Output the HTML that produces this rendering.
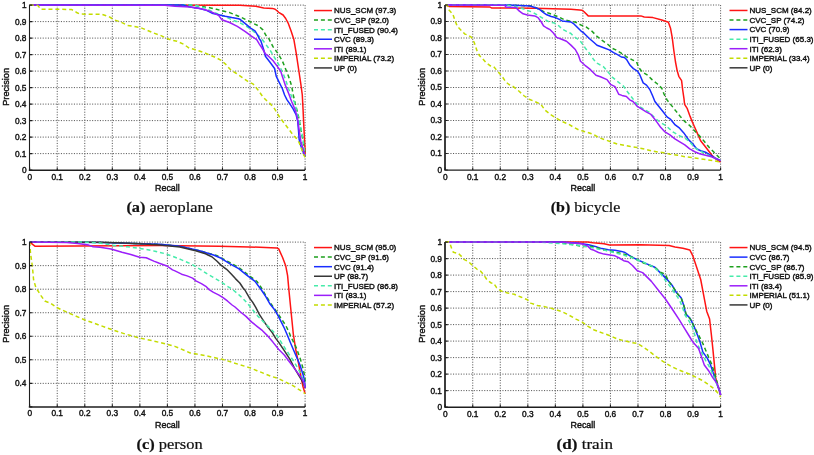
<!DOCTYPE html><html><head><meta charset="utf-8"><title>PR curves</title><style>html,body{margin:0;padding:0;background:#fff;overflow:hidden;}svg{display:block;}</style></head><body>
<svg width="814" height="455" viewBox="0 0 814 455">
<rect width="814" height="455" fill="#fff"/>
<path d="M57.24 5.1V170.1 M84.78 5.1V170.1 M112.32 5.1V170.1 M139.86 5.1V170.1 M167.4 5.1V170.1 M194.94 5.1V170.1 M222.48 5.1V170.1 M250.02 5.1V170.1 M277.56 5.1V170.1 M305.1 5.1V170.1 M29.7 153.6H305.1 M29.7 137.1H305.1 M29.7 120.6H305.1 M29.7 104.1H305.1 M29.7 87.6H305.1 M29.7 71.1H305.1 M29.7 54.6H305.1 M29.7 38.1H305.1 M29.7 21.6H305.1 M29.7 5.1H305.1" fill="none" stroke="#5a5a5a" stroke-width="1.0" stroke-dasharray="1.1 1.5"/>
<path d="M29.7 5.1 L240 5.3 L255.8 6.2 L263.7 7.9 L272.5 8.4 L275.2 9.2 L278.7 12.3 L283.1 15 L285.7 18.5 L288.4 23.7 L291 30.8 L293.8 39.2 L296.2 53.1 L298.5 68.5 L300.8 83.8 L302.3 95 L303.1 110.4 L303.8 125.8 L304.6 141.2 L305.1 150.4 L305.1 155" fill="none" stroke="rgb(255,20,20)" stroke-width="1.5" stroke-linejoin="round"/>
<path d="M29.7 5.1 L190 5.1 L194.4 5.5 L202.1 6.6 L209.8 7.7 L216.4 9.3 L223 11 L229.6 12.6 L235.1 14.8 L241.6 17.5 L245.3 19.3 L252.3 22.9 L258.5 25.9 L262.9 29.9 L266.4 36.1 L268.5 38 L273.1 46.9 L277.7 53.1 L282.3 60.8 L285.4 68.5 L288.5 76.2 L291.5 85.4 L293.5 96 L295.4 104.2 L298.5 116.5 L300.8 128.8 L303.1 141.2 L304.6 150.4 L305.1 156.5" fill="none" stroke="rgb(30,160,30)" stroke-width="1.5" stroke-linejoin="round" stroke-dasharray="4 2.9"/>
<path d="M29.7 5.1 L195 5.1 L205 8 L213.1 12.1 L225 16.5 L232.9 20.3 L239.5 22.5 L245 25.5 L251.5 29.7 L256 33.5 L260.8 37.7 L265.4 43.8 L270 50 L274.6 57.7 L279.2 65.4 L282.3 71.5 L285.4 79.2 L288.5 88.5 L291.5 96.2 L294.6 102.7 L297.7 115 L300.8 127.3 L303.1 139.6 L304.6 151.9 L305.1 155" fill="none" stroke="rgb(70,235,170)" stroke-width="1.5" stroke-linejoin="round" stroke-dasharray="4 2.9"/>
<path d="M29.7 5.1 L183.5 5.1 L190 7.1 L198.8 8.2 L206.5 10.4 L212 13.2 L218.6 14.8 L225.2 16.3 L231.8 17.6 L238.4 18.7 L240 19.3 L245.3 23.7 L250.6 28.1 L255 30.8 L257.6 35.2 L259.3 38.7 L260.8 40.8 L263.8 50 L265.4 56.2 L270 62.3 L274.6 68.5 L276.2 76.2 L279.2 82.3 L282.3 88.5 L284.6 95 L286.9 99.6 L290 104.2 L293.1 108.8 L296.2 115 L297.7 121.2 L298.5 130.4 L299.2 139.6 L300.8 145.8 L303.1 151.9 L304.6 155.8 L305.1 156.5" fill="none" stroke="rgb(25,45,255)" stroke-width="1.5" stroke-linejoin="round"/>
<path d="M29.7 5.1 L165 5.2 L175 6.2 L190 7.1 L201 8.8 L207.6 10.4 L212 12.1 L218.6 15.4 L221.9 19.8 L229.6 22.5 L237.3 26.4 L240 28.1 L245.3 31.7 L251.4 36.1 L256.7 39.6 L259.2 43.8 L262.3 48.5 L265.4 53.8 L268.5 56.2 L273.1 60.8 L277.7 66.9 L280.8 71.5 L282.3 76.2 L285.4 85.4 L288.5 93.1 L291.5 101.2 L295.4 110.4 L297.7 119.6 L299.2 130.4 L300.8 141.2 L303.1 148.8 L304.6 155 L305.1 156" fill="none" stroke="rgb(155,30,250)" stroke-width="1.5" stroke-linejoin="round"/>
<path d="M29.7 5.1 L37.8 5.4 L40.8 9.3 L71.2 9.4 L74.2 10.8 L77.1 12.8 L80.1 14.1 L101.6 14.3 L108.8 16.6 L114.3 19.9 L120.9 22.1 L127.5 25.4 L134.1 26.5 L140.7 27.6 L147.3 30.3 L153.8 33.1 L160.4 35.3 L165.9 38 L171.4 40.2 L177 41.2 L183.8 44.3 L189.3 48.2 L195.9 49.8 L202.5 52 L209.1 54.8 L214.6 57 L221.2 60.3 L225.5 64.1 L231 70.2 L236.5 73.5 L242 77.3 L247.5 81.2 L253 83.9 L258 90 L262.9 96.9 L266.5 100.5 L270 103.5 L274.6 108.8 L279.2 116.5 L283.8 122.7 L288.5 128.8 L293.1 135 L296.2 138.1 L299.2 142.7 L301.5 148.8 L303.8 155 L305.1 157.3" fill="none" stroke="rgb(195,220,0)" stroke-width="1.5" stroke-linejoin="round" stroke-dasharray="4 2.9"/>
<path d="M29.5 5.1V170.1" fill="none" stroke="#1e1e1e" stroke-width="1.1"/>
<path d="M28.8 170.25H305.1" fill="none" stroke="#1e1e1e" stroke-width="1.4"/>
<path d="M29.7 170.1v-2.6 M57.24 170.1v-2.6 M84.78 170.1v-2.6 M112.32 170.1v-2.6 M139.86 170.1v-2.6 M167.4 170.1v-2.6 M194.94 170.1v-2.6 M222.48 170.1v-2.6 M250.02 170.1v-2.6 M277.56 170.1v-2.6 M305.1 170.1v-2.6 M29.7 170.1h2.6 M29.7 153.6h2.6 M29.7 137.1h2.6 M29.7 120.6h2.6 M29.7 104.1h2.6 M29.7 87.6h2.6 M29.7 71.1h2.6 M29.7 54.6h2.6 M29.7 38.1h2.6 M29.7 21.6h2.6 M29.7 5.1h2.6" fill="none" stroke="#1e1e1e" stroke-width="1.1"/>
<g font-family='"Liberation Sans", Arial, Helvetica, sans-serif' font-size="8.3" fill="#111" stroke="#111" stroke-width="0.4">
<text x="29.7" y="179.6" text-anchor="middle">0</text>
<text x="57.24" y="179.6" text-anchor="middle">0.1</text>
<text x="84.78" y="179.6" text-anchor="middle">0.2</text>
<text x="112.32" y="179.6" text-anchor="middle">0.3</text>
<text x="139.86" y="179.6" text-anchor="middle">0.4</text>
<text x="167.4" y="179.6" text-anchor="middle">0.5</text>
<text x="194.94" y="179.6" text-anchor="middle">0.6</text>
<text x="222.48" y="179.6" text-anchor="middle">0.7</text>
<text x="250.02" y="179.6" text-anchor="middle">0.8</text>
<text x="277.56" y="179.6" text-anchor="middle">0.9</text>
<text x="305.1" y="179.6" text-anchor="middle">1</text>
<text x="26.5" y="173" text-anchor="end">0</text>
<text x="26.5" y="156.5" text-anchor="end">0.1</text>
<text x="26.5" y="140" text-anchor="end">0.2</text>
<text x="26.5" y="123.5" text-anchor="end">0.3</text>
<text x="26.5" y="107" text-anchor="end">0.4</text>
<text x="26.5" y="90.5" text-anchor="end">0.5</text>
<text x="26.5" y="74" text-anchor="end">0.6</text>
<text x="26.5" y="57.5" text-anchor="end">0.7</text>
<text x="26.5" y="41" text-anchor="end">0.8</text>
<text x="26.5" y="24.5" text-anchor="end">0.9</text>
<text x="26.5" y="8" text-anchor="end">1</text>
</g>
<text x="167.4" y="190.9" text-anchor="middle" font-family='"Liberation Sans", Arial, Helvetica, sans-serif' font-size="8.9" fill="#111" stroke="#111" stroke-width="0.4">Recall</text>
<text transform="translate(9.3 86.9) rotate(-90)" text-anchor="middle" font-family='"Liberation Sans", Arial, Helvetica, sans-serif' font-size="9.2" fill="#111" stroke="#111" stroke-width="0.4">Precision</text>
<path d="M314 10.56H332" stroke="rgb(255,20,20)" stroke-width="1.5"/>
<text x="334" y="13.46" font-family='"Liberation Sans", Arial, Helvetica, sans-serif' font-size="8.0" fill="#111" stroke="#111" stroke-width="0.4">NUS_SCM (97.3)</text>
<path d="M314 20.12H332" stroke="rgb(30,160,30)" stroke-width="1.5" stroke-dasharray="4 2.9"/>
<text x="334" y="23.02" font-family='"Liberation Sans", Arial, Helvetica, sans-serif' font-size="8.0" fill="#111" stroke="#111" stroke-width="0.4">CVC_SP (92.0)</text>
<path d="M314 29.68H332" stroke="rgb(70,235,170)" stroke-width="1.5" stroke-dasharray="4 2.9"/>
<text x="334" y="32.58" font-family='"Liberation Sans", Arial, Helvetica, sans-serif' font-size="8.0" fill="#111" stroke="#111" stroke-width="0.4">ITI_FUSED (90.4)</text>
<path d="M314 39.24H332" stroke="rgb(25,45,255)" stroke-width="1.5"/>
<text x="334" y="42.14" font-family='"Liberation Sans", Arial, Helvetica, sans-serif' font-size="8.0" fill="#111" stroke="#111" stroke-width="0.4">CVC (89.3)</text>
<path d="M314 48.8H332" stroke="rgb(155,30,250)" stroke-width="1.5"/>
<text x="334" y="51.7" font-family='"Liberation Sans", Arial, Helvetica, sans-serif' font-size="8.0" fill="#111" stroke="#111" stroke-width="0.4">ITI (89.1)</text>
<path d="M314 58.36H332" stroke="rgb(195,220,0)" stroke-width="1.5" stroke-dasharray="4 2.9"/>
<text x="334" y="61.26" font-family='"Liberation Sans", Arial, Helvetica, sans-serif' font-size="8.0" fill="#111" stroke="#111" stroke-width="0.4">IMPERIAL (73.2)</text>
<path d="M314 67.92H332" stroke="rgb(55,55,55)" stroke-width="1.5"/>
<text x="334" y="70.82" font-family='"Liberation Sans", Arial, Helvetica, sans-serif' font-size="8.0" fill="#111" stroke="#111" stroke-width="0.4">UP (0)</text>
<text x="126.4" y="211.7" font-family='"Liberation Serif", "Times New Roman", serif' font-size="14.2" fill="#111" stroke="#111" stroke-width="0.2" textLength="86.4" lengthAdjust="spacingAndGlyphs"><tspan font-weight="bold">(a)</tspan> aeroplane</text>
<path d="M472.74 5V170 M500.28 5V170 M527.82 5V170 M555.36 5V170 M582.9 5V170 M610.44 5V170 M637.98 5V170 M665.52 5V170 M693.06 5V170 M720.6 5V170 M445.2 153.5H720.6 M445.2 137H720.6 M445.2 120.5H720.6 M445.2 104H720.6 M445.2 87.5H720.6 M445.2 71H720.6 M445.2 54.5H720.6 M445.2 38H720.6 M445.2 21.5H720.6 M445.2 5H720.6" fill="none" stroke="#5a5a5a" stroke-width="1.0" stroke-dasharray="1.1 1.5"/>
<path d="M445.2 5 L448.9 6.4 L489.5 6.9 L491.5 7.9 L535 8.3 L571 9.3 L579.7 9.9 L581.9 10.2 L583.8 11.5 L588.2 15.9 L640.9 15.9 L644.2 17 L653 17.6 L661.8 20 L668.4 22.2 L670.6 28.6 L672.2 37.4 L673.9 51 L675.5 62 L677.2 70.8 L678.8 76.3 L681.6 80.7 L682.7 90 L684 98.8 L684.6 104.3 L687.3 108.7 L690.1 116.4 L692.3 121.9 L693.7 125 L697.6 133.9 L700.6 140.8 L704.6 145.8 L708.5 150.7 L711.5 154.7 L715.4 158.7 L720.6 162.1" fill="none" stroke="rgb(255,20,20)" stroke-width="1.5" stroke-linejoin="round"/>
<path d="M445.2 5 L505 5 L532.5 6 L538 8.8 L543.5 11.5 L549 13.2 L553.4 14.8 L558.8 17 L564.3 19.8 L570.9 21.4 L575 22 L581.6 25.3 L586 26.9 L591.5 30.8 L597 36.3 L602.5 40.7 L608 44.5 L612.4 48.4 L615.8 49.9 L621.3 53.2 L626.8 57 L632.3 59.8 L636.6 62 L638.8 67.5 L642.1 71.9 L647.6 75.2 L652 79.6 L657.5 84 L661.9 88.4 L663.7 93.3 L667 99.9 L671.4 105.4 L675.8 110.9 L680.2 116.4 L684.6 121.3 L689.7 125.5 L694.7 130.9 L699.6 135.9 L704.6 141.8 L709.5 147.8 L714.5 152.7 L719.4 157.7 L720.6 159.2" fill="none" stroke="rgb(30,160,30)" stroke-width="1.5" stroke-linejoin="round" stroke-dasharray="4 2.9"/>
<path d="M445.2 5 L505 5 L530.3 6 L536.9 8.2 L540.2 9.9 L543.5 12.6 L546.8 14.8 L551.2 16.5 L555.5 17.6 L558.8 19.2 L562.1 20.9 L566.5 21.4 L570.9 22 L574.2 24.2 L577.5 27.5 L580.8 30.8 L584 33.2 L589.3 38.5 L593.7 42.3 L597 45.3 L603.7 47.7 L609.2 49.9 L613.6 52.6 L618 54.8 L621.3 57 L624.6 57.6 L626.8 59.8 L630.1 65.3 L633.4 68.6 L637.7 71.3 L640 75.2 L643.2 82.9 L646.5 85.1 L649.8 89.5 L652.7 96 L654.9 101.5 L659.3 107 L663.7 112.5 L667 116.9 L670.3 119.1 L675.2 124.9 L679.6 128.2 L683.8 132.9 L688.7 139.9 L692.7 143.8 L696.6 148.8 L700.6 150.7 L705.5 152.2 L709.5 154.7 L714.5 157.7 L720.6 160.6" fill="none" stroke="rgb(25,45,255)" stroke-width="1.5" stroke-linejoin="round"/>
<path d="M445.2 5 L505 5 L516 6.6 L521.5 8.2 L527 10.4 L532.5 12.1 L538 15.4 L543.5 18.7 L549 22 L554.5 23.1 L558.8 25.8 L562.1 29.1 L566.5 31.3 L570.9 33.5 L574.2 36.8 L577.5 39 L580.8 41.8 L584.1 46.2 L585 47.7 L589.4 53.2 L593.8 59.8 L597.1 63.1 L603.7 66.9 L607 70.8 L612.5 77.4 L618 81.8 L623.5 86.2 L626.4 90.5 L630.8 96 L634.1 100.4 L638.5 105.9 L644 109.2 L649.5 112.5 L654.9 118 L660.4 122.4 L665.9 125.7 L672.9 131.9 L679.8 135.9 L684.8 137.9 L689.7 141.8 L694.7 147.8 L699.6 150.7 L705.5 153.7 L711.5 156.7 L720.6 160.6" fill="none" stroke="rgb(70,235,170)" stroke-width="1.5" stroke-linejoin="round" stroke-dasharray="4 2.9"/>
<path d="M445.2 5 L504.7 5.3 L506 7.2 L515.7 7.4 L519.4 11.1 L523.1 13.8 L527.4 15 L534.7 15.9 L538 17.6 L541.3 22 L543.5 25.8 L546.8 28 L550.1 29.7 L553.4 33 L556.6 37.4 L561 39 L566.5 41.2 L570.9 45.1 L575.3 49.5 L578.5 55.4 L580.5 61.3 L585 65.3 L590.5 69.7 L596 75.2 L600.4 76.8 L607 79.6 L610.5 84.3 L615 86.6 L618.7 94.3 L622 95.4 L626.4 96.5 L629.7 99.8 L633 101.5 L637.4 106.4 L641.8 109.2 L646.2 111.9 L650.5 114.1 L653.8 118 L657.1 122.4 L660.4 127 L665 131.9 L669.9 134.9 L674.9 138.9 L679.8 141.8 L684.8 144.8 L689.7 148.8 L694.7 151.7 L699.6 153.7 L705.5 155.2 L711.5 156.7 L720.6 160.6" fill="none" stroke="rgb(155,30,250)" stroke-width="1.5" stroke-linejoin="round"/>
<path d="M445.2 5 L447.4 5.2 L449 9.9 L452.9 14.3 L455.1 20.9 L457.3 26.4 L461.7 30.8 L465 34.1 L468.3 35.2 L471.6 37.4 L474.3 42.7 L477.1 51 L479.3 55.4 L482.6 58.7 L485.9 62.5 L490.3 65.8 L493.6 66.4 L495.8 69.1 L499.1 73 L502.4 76.8 L505.7 81.8 L509 84.5 L513.3 86.6 L518.8 91 L524.3 96 L529.2 99.3 L535.8 102 L540.8 104.2 L545.2 110.3 L550.7 114.7 L556.2 118 L561.6 121.3 L568.2 124 L573.7 127.3 L579.2 130.1 L586.6 132.1 L593.2 134.3 L598.7 137.6 L605.3 139.8 L611.3 142 L617.9 144.2 L624 145.3 L630.5 146.6 L637.1 147.5 L644.8 149.1 L651.4 150.8 L658 152.1 L664 152.7 L669.9 154.2 L677.8 155.2 L684.8 156.7 L692.7 157.7 L699.6 158.7 L706.5 159.7 L713.5 160.6 L720.6 162.1" fill="none" stroke="rgb(195,220,0)" stroke-width="1.5" stroke-linejoin="round" stroke-dasharray="4 2.9"/>
<path d="M445 5V170" fill="none" stroke="#333" stroke-width="1.9"/>
<path d="M444.3 170.15H720.6" fill="none" stroke="#1e1e1e" stroke-width="1.4"/>
<path d="M445.2 170v-2.6 M472.74 170v-2.6 M500.28 170v-2.6 M527.82 170v-2.6 M555.36 170v-2.6 M582.9 170v-2.6 M610.44 170v-2.6 M637.98 170v-2.6 M665.52 170v-2.6 M693.06 170v-2.6 M720.6 170v-2.6 M445.2 170h2.6 M445.2 153.5h2.6 M445.2 137h2.6 M445.2 120.5h2.6 M445.2 104h2.6 M445.2 87.5h2.6 M445.2 71h2.6 M445.2 54.5h2.6 M445.2 38h2.6 M445.2 21.5h2.6 M445.2 5h2.6" fill="none" stroke="#1e1e1e" stroke-width="1.1"/>
<g font-family='"Liberation Sans", Arial, Helvetica, sans-serif' font-size="8.3" fill="#111" stroke="#111" stroke-width="0.4">
<text x="445.2" y="179.5" text-anchor="middle">0</text>
<text x="472.74" y="179.5" text-anchor="middle">0.1</text>
<text x="500.28" y="179.5" text-anchor="middle">0.2</text>
<text x="527.82" y="179.5" text-anchor="middle">0.3</text>
<text x="555.36" y="179.5" text-anchor="middle">0.4</text>
<text x="582.9" y="179.5" text-anchor="middle">0.5</text>
<text x="610.44" y="179.5" text-anchor="middle">0.6</text>
<text x="637.98" y="179.5" text-anchor="middle">0.7</text>
<text x="665.52" y="179.5" text-anchor="middle">0.8</text>
<text x="693.06" y="179.5" text-anchor="middle">0.9</text>
<text x="720.6" y="179.5" text-anchor="middle">1</text>
<text x="442" y="172.9" text-anchor="end">0</text>
<text x="442" y="156.4" text-anchor="end">0.1</text>
<text x="442" y="139.9" text-anchor="end">0.2</text>
<text x="442" y="123.4" text-anchor="end">0.3</text>
<text x="442" y="106.9" text-anchor="end">0.4</text>
<text x="442" y="90.4" text-anchor="end">0.5</text>
<text x="442" y="73.9" text-anchor="end">0.6</text>
<text x="442" y="57.4" text-anchor="end">0.7</text>
<text x="442" y="40.9" text-anchor="end">0.8</text>
<text x="442" y="24.4" text-anchor="end">0.9</text>
<text x="442" y="7.9" text-anchor="end">1</text>
</g>
<text x="582.9" y="190.8" text-anchor="middle" font-family='"Liberation Sans", Arial, Helvetica, sans-serif' font-size="8.9" fill="#111" stroke="#111" stroke-width="0.4">Recall</text>
<text transform="translate(424.8 86.8) rotate(-90)" text-anchor="middle" font-family='"Liberation Sans", Arial, Helvetica, sans-serif' font-size="9.2" fill="#111" stroke="#111" stroke-width="0.4">Precision</text>
<path d="M729.5 10.46H747.5" stroke="rgb(255,20,20)" stroke-width="1.5"/>
<text x="749.5" y="13.36" font-family='"Liberation Sans", Arial, Helvetica, sans-serif' font-size="8.0" fill="#111" stroke="#111" stroke-width="0.4">NUS_SCM (84.2)</text>
<path d="M729.5 20.02H747.5" stroke="rgb(30,160,30)" stroke-width="1.5" stroke-dasharray="4 2.9"/>
<text x="749.5" y="22.92" font-family='"Liberation Sans", Arial, Helvetica, sans-serif' font-size="8.0" fill="#111" stroke="#111" stroke-width="0.4">CVC_SP (74.2)</text>
<path d="M729.5 29.58H747.5" stroke="rgb(25,45,255)" stroke-width="1.5"/>
<text x="749.5" y="32.48" font-family='"Liberation Sans", Arial, Helvetica, sans-serif' font-size="8.0" fill="#111" stroke="#111" stroke-width="0.4">CVC (70.9)</text>
<path d="M729.5 39.14H747.5" stroke="rgb(70,235,170)" stroke-width="1.5" stroke-dasharray="4 2.9"/>
<text x="749.5" y="42.04" font-family='"Liberation Sans", Arial, Helvetica, sans-serif' font-size="8.0" fill="#111" stroke="#111" stroke-width="0.4">ITI_FUSED (65.3)</text>
<path d="M729.5 48.7H747.5" stroke="rgb(155,30,250)" stroke-width="1.5"/>
<text x="749.5" y="51.6" font-family='"Liberation Sans", Arial, Helvetica, sans-serif' font-size="8.0" fill="#111" stroke="#111" stroke-width="0.4">ITI (62.3)</text>
<path d="M729.5 58.26H747.5" stroke="rgb(195,220,0)" stroke-width="1.5" stroke-dasharray="4 2.9"/>
<text x="749.5" y="61.16" font-family='"Liberation Sans", Arial, Helvetica, sans-serif' font-size="8.0" fill="#111" stroke="#111" stroke-width="0.4">IMPERIAL (33.4)</text>
<path d="M729.5 67.82H747.5" stroke="rgb(55,55,55)" stroke-width="1.5"/>
<text x="749.5" y="70.72" font-family='"Liberation Sans", Arial, Helvetica, sans-serif' font-size="8.0" fill="#111" stroke="#111" stroke-width="0.4">UP (0)</text>
<text x="550.7" y="211.6" font-family='"Liberation Serif", "Times New Roman", serif' font-size="14.2" fill="#111" stroke="#111" stroke-width="0.2" textLength="69.6" lengthAdjust="spacingAndGlyphs"><tspan font-weight="bold">(b)</tspan> bicycle</text>
<path d="M57.24 242.1V406.9 M84.78 242.1V406.9 M112.32 242.1V406.9 M139.86 242.1V406.9 M167.4 242.1V406.9 M194.94 242.1V406.9 M222.48 242.1V406.9 M250.02 242.1V406.9 M277.56 242.1V406.9 M305.1 242.1V406.9 M29.7 383.36H305.1 M29.7 359.81H305.1 M29.7 336.27H305.1 M29.7 312.73H305.1 M29.7 289.19H305.1 M29.7 265.64H305.1 M29.7 242.1H305.1" fill="none" stroke="#5a5a5a" stroke-width="1.0" stroke-dasharray="1.1 1.5"/>
<path d="M29.7 242.1 L34.9 246.2 L160 245.6 L219.4 246.3 L249.1 246.9 L276.8 247.9 L278.7 248.9 L282.7 257.8 L285.7 265.7 L287.6 275.6 L288.9 290 L291.1 312 L293.3 334 L295.7 349.3 L298.6 363.6 L300.7 375 L302.9 386.4 L305.1 393.6" fill="none" stroke="rgb(255,20,20)" stroke-width="1.5" stroke-linejoin="round"/>
<path d="M29.7 242.1 L100 242.4 L160 244.3 L179.8 246.3 L199.6 250.8 L217.4 255.8 L239.2 267.7 L249.1 275.6 L257 281.5 L261.5 288 L265.8 295.5 L271.3 304.3 L276.8 312 L281.2 318.6 L285.6 325.2 L288.9 331.8 L290.7 336.4 L295.7 346.4 L300 357.9 L302.9 367.9 L305 377.9 L305.1 386" fill="none" stroke="rgb(30,160,30)" stroke-width="1.5" stroke-linejoin="round" stroke-dasharray="4 2.9"/>
<path d="M29.7 242.1 L100 242.5 L160 244.3 L179.8 246.3 L199.6 250.8 L213.5 255 L221.2 258.3 L230 263.8 L238.7 268.7 L246.4 274.8 L255 281.4 L261.4 290 L265.8 296.6 L270.2 304.3 L274.6 309.8 L277.9 315.3 L281.2 321.9 L284.5 328.5 L287.8 336.2 L291.4 345 L295.7 355 L300 365 L303.6 376.4 L305 385 L305.1 388" fill="none" stroke="rgb(25,45,255)" stroke-width="1.5" stroke-linejoin="round"/>
<path d="M29.7 242.1 L100 242.3 L124 242.9 L143.7 243.9 L160 244.9 L179.8 246.9 L195.6 250.8 L205.5 253.8 L208 255 L212.4 257.2 L216.8 261 L221.2 265.4 L226.6 269.3 L231 273.7 L235.4 278.6 L239.8 283 L243.1 288 L244.9 290 L249.3 297.7 L252.6 302.1 L255.9 307.6 L259.2 314.2 L263.6 320.8 L268 327.4 L272.4 332.9 L275.7 338.4 L278.6 342.1 L284.3 350.7 L290 359.3 L294.3 367.9 L298.6 375 L302.9 382.1 L305 387.9" fill="none" stroke="rgb(55,55,55)" stroke-width="1.5" stroke-linejoin="round"/>
<path d="M29.7 242.1 L84.4 242.1 L100 243 L111 245.1 L127.5 246.8 L139.6 248.4 L146.2 249.5 L155 251.2 L165.9 253.9 L175 257.2 L181.6 259.9 L188.2 262.7 L193.7 265.4 L200.3 269.3 L206.9 273.7 L213.5 277.5 L220.1 281.4 L226.6 285.8 L232.1 289.1 L237 293.1 L242.3 297.8 L247.8 303.8 L252.6 309.8 L258.1 316.4 L263.6 321.9 L269.1 327.4 L274.6 332.9 L278 337 L282.9 345 L288.6 353.6 L294.3 362.1 L300 372.1 L303.6 380.7 L305.1 388" fill="none" stroke="rgb(70,235,170)" stroke-width="1.5" stroke-linejoin="round" stroke-dasharray="4 2.9"/>
<path d="M29.7 242.1 L66.8 242.4 L77.7 243.5 L88.7 245.1 L93.1 246.8 L100 247.3 L111 249 L122 252.3 L130.8 254.5 L139.6 257.2 L146.2 257.8 L153.8 261.1 L159.3 263.3 L167 266 L172.5 269.9 L175 270.9 L181.6 274.2 L187.1 275.9 L192.6 278.1 L195.9 280.8 L201.4 283.6 L205.8 286.3 L209.1 289.6 L213.5 292.4 L219 295.1 L223.4 297.9 L227.7 301.2 L232.1 305 L235 307 L240.5 312 L246 316.4 L251.5 321.9 L257 326.3 L262.5 330.7 L266.9 335.1 L272.9 342.1 L278.6 349.3 L284.3 355 L288.6 360.7 L292.9 366.4 L297.1 372.1 L301.4 377.9 L304.3 383.6 L305.1 388" fill="none" stroke="rgb(155,30,250)" stroke-width="1.5" stroke-linejoin="round"/>
<path d="M29.7 242.1 L30.5 253 L31.9 263 L32.8 271 L33.6 280 L35.9 287.5 L40.8 295.4 L44.8 301 L50.7 303.3 L56.7 307.5 L68.5 312.9 L84.4 319.8 L98.2 324.7 L112.1 329.7 L124 333.6 L137.8 337.6 L151.7 340.6 L163 343.2 L175.4 346.6 L189.7 352.7 L205.5 355.6 L223.3 359.6 L239.2 364.5 L250 367.9 L257.1 370.7 L264.3 373.6 L271.4 376.4 L278.6 378.6 L285.7 382.1 L292.9 385.7 L298.6 389.3 L305.1 393.6" fill="none" stroke="rgb(195,220,0)" stroke-width="1.5" stroke-linejoin="round" stroke-dasharray="4 2.9"/>
<path d="M29.5 242.1V406.9" fill="none" stroke="#1e1e1e" stroke-width="1.1"/>
<path d="M28.8 407.05H305.1" fill="none" stroke="#1e1e1e" stroke-width="1.4"/>
<path d="M29.7 406.9v-2.6 M57.24 406.9v-2.6 M84.78 406.9v-2.6 M112.32 406.9v-2.6 M139.86 406.9v-2.6 M167.4 406.9v-2.6 M194.94 406.9v-2.6 M222.48 406.9v-2.6 M250.02 406.9v-2.6 M277.56 406.9v-2.6 M305.1 406.9v-2.6 M29.7 406.9h2.6 M29.7 383.36h2.6 M29.7 359.81h2.6 M29.7 336.27h2.6 M29.7 312.73h2.6 M29.7 289.19h2.6 M29.7 265.64h2.6 M29.7 242.1h2.6" fill="none" stroke="#1e1e1e" stroke-width="1.1"/>
<g font-family='"Liberation Sans", Arial, Helvetica, sans-serif' font-size="8.3" fill="#111" stroke="#111" stroke-width="0.4">
<text x="29.7" y="416.4" text-anchor="middle">0</text>
<text x="57.24" y="416.4" text-anchor="middle">0.1</text>
<text x="84.78" y="416.4" text-anchor="middle">0.2</text>
<text x="112.32" y="416.4" text-anchor="middle">0.3</text>
<text x="139.86" y="416.4" text-anchor="middle">0.4</text>
<text x="167.4" y="416.4" text-anchor="middle">0.5</text>
<text x="194.94" y="416.4" text-anchor="middle">0.6</text>
<text x="222.48" y="416.4" text-anchor="middle">0.7</text>
<text x="250.02" y="416.4" text-anchor="middle">0.8</text>
<text x="277.56" y="416.4" text-anchor="middle">0.9</text>
<text x="305.1" y="416.4" text-anchor="middle">1</text>
<text x="26.5" y="386.26" text-anchor="end">0.4</text>
<text x="26.5" y="362.71" text-anchor="end">0.5</text>
<text x="26.5" y="339.17" text-anchor="end">0.6</text>
<text x="26.5" y="315.63" text-anchor="end">0.7</text>
<text x="26.5" y="292.09" text-anchor="end">0.8</text>
<text x="26.5" y="268.54" text-anchor="end">0.9</text>
<text x="26.5" y="245" text-anchor="end">1</text>
</g>
<text x="167.4" y="427.7" text-anchor="middle" font-family='"Liberation Sans", Arial, Helvetica, sans-serif' font-size="8.9" fill="#111" stroke="#111" stroke-width="0.4">Recall</text>
<text transform="translate(9.3 323.8) rotate(-90)" text-anchor="middle" font-family='"Liberation Sans", Arial, Helvetica, sans-serif' font-size="9.2" fill="#111" stroke="#111" stroke-width="0.4">Precision</text>
<path d="M314 247.56H332" stroke="rgb(255,20,20)" stroke-width="1.5"/>
<text x="334" y="250.46" font-family='"Liberation Sans", Arial, Helvetica, sans-serif' font-size="8.0" fill="#111" stroke="#111" stroke-width="0.4">NUS_SCM (95.0)</text>
<path d="M314 257.12H332" stroke="rgb(30,160,30)" stroke-width="1.5" stroke-dasharray="4 2.9"/>
<text x="334" y="260.02" font-family='"Liberation Sans", Arial, Helvetica, sans-serif' font-size="8.0" fill="#111" stroke="#111" stroke-width="0.4">CVC_SP (91.6)</text>
<path d="M314 266.68H332" stroke="rgb(25,45,255)" stroke-width="1.5"/>
<text x="334" y="269.58" font-family='"Liberation Sans", Arial, Helvetica, sans-serif' font-size="8.0" fill="#111" stroke="#111" stroke-width="0.4">CVC (91.4)</text>
<path d="M314 276.24H332" stroke="rgb(55,55,55)" stroke-width="1.5"/>
<text x="334" y="279.14" font-family='"Liberation Sans", Arial, Helvetica, sans-serif' font-size="8.0" fill="#111" stroke="#111" stroke-width="0.4">UP (88.7)</text>
<path d="M314 285.8H332" stroke="rgb(70,235,170)" stroke-width="1.5" stroke-dasharray="4 2.9"/>
<text x="334" y="288.7" font-family='"Liberation Sans", Arial, Helvetica, sans-serif' font-size="8.0" fill="#111" stroke="#111" stroke-width="0.4">ITI_FUSED (86.8)</text>
<path d="M314 295.36H332" stroke="rgb(155,30,250)" stroke-width="1.5"/>
<text x="334" y="298.26" font-family='"Liberation Sans", Arial, Helvetica, sans-serif' font-size="8.0" fill="#111" stroke="#111" stroke-width="0.4">ITI (83.1)</text>
<path d="M314 304.92H332" stroke="rgb(195,220,0)" stroke-width="1.5" stroke-dasharray="4 2.9"/>
<text x="334" y="307.82" font-family='"Liberation Sans", Arial, Helvetica, sans-serif' font-size="8.0" fill="#111" stroke="#111" stroke-width="0.4">IMPERIAL (57.2)</text>
<text x="136.5" y="448.5" font-family='"Liberation Serif", "Times New Roman", serif' font-size="14.2" fill="#111" stroke="#111" stroke-width="0.2" textLength="66.1" lengthAdjust="spacingAndGlyphs"><tspan font-weight="bold">(c)</tspan> person</text>
<path d="M472.74 242.1V407.1 M500.28 242.1V407.1 M527.82 242.1V407.1 M555.36 242.1V407.1 M582.9 242.1V407.1 M610.44 242.1V407.1 M637.98 242.1V407.1 M665.52 242.1V407.1 M693.06 242.1V407.1 M720.6 242.1V407.1 M445.2 390.6H720.6 M445.2 374.1H720.6 M445.2 357.6H720.6 M445.2 341.1H720.6 M445.2 324.6H720.6 M445.2 308.1H720.6 M445.2 291.6H720.6 M445.2 275.1H720.6 M445.2 258.6H720.6 M445.2 242.1H720.6" fill="none" stroke="#5a5a5a" stroke-width="1.0" stroke-dasharray="1.1 1.5"/>
<path d="M445.2 242.1 L587.5 241.9 L593 242.8 L604 243.7 L609.5 245 L640 244.8 L669.1 245.5 L675 246.9 L682.9 248.3 L689.8 249.9 L692.8 255.8 L696.8 267.7 L700.7 279.5 L703.7 295.4 L706.7 311.2 L709.6 319.1 L711.4 335 L712.9 349.3 L714.3 363.6 L715.7 377.9 L717.9 386.4 L720.6 395" fill="none" stroke="rgb(255,20,20)" stroke-width="1.5" stroke-linejoin="round"/>
<path d="M445.2 242.1 L560 242.1 L576.5 243.1 L582 243.7 L588.6 244.8 L595.2 246.4 L601.8 248.6 L608.4 249.7 L614.9 250.3 L621.5 251.4 L625 252.5 L629.2 255.4 L635.5 258.8 L644.3 262.9 L654.9 267.3 L660.2 272.6 L667.2 279.6 L672.5 285.8 L676 291.9 L681.3 298.1 L683.9 306 L685.7 313.9 L690.1 318.3 L693.6 325.3 L697.1 334.1 L700 342.1 L702.9 352.1 L707.1 357.9 L710 363.6 L712.9 372.1 L715.7 380.7 L720 392.1 L720.6 395" fill="none" stroke="rgb(25,45,255)" stroke-width="1.5" stroke-linejoin="round"/>
<path d="M445.2 242.1 L545 242.1 L560 242.6 L571 244.2 L576.5 245.3 L583.1 246.4 L589.7 246.2 L596.3 247.5 L602.9 249.7 L609.5 250.8 L616 252.5 L622.6 253.6 L629.2 255.8 L635.8 259.1 L644.3 263.2 L654.9 267.6 L660.5 272.2 L665.4 274.3 L668.2 280.5 L673 287 L677 293 L681.5 299 L684.2 306.5 L686.2 314.5 L690.3 319 L693.8 326 L698.6 335 L702.9 343.6 L707.1 353.6 L711.4 363.6 L714.3 372.1 L717.1 382.1 L720 392.1 L720.6 395" fill="none" stroke="rgb(30,160,30)" stroke-width="1.5" stroke-linejoin="round" stroke-dasharray="4 2.9"/>
<path d="M445.2 242.1 L540 242.1 L562.2 243.7 L580 245.5 L603.7 250 L621.5 254.5 L631.5 257.5 L644 262.5 L654.5 267.5 L660 273 L665.5 280.5 L670.5 287 L675 293.5 L679.5 300 L682.5 307.5 L685 315 L689 321 L692.5 327.5 L694.8 335 L697.1 343.6 L701.4 352.1 L705.7 360.7 L710 367.9 L714.3 377.9 L720 392.1 L720.6 395" fill="none" stroke="rgb(70,235,170)" stroke-width="1.5" stroke-linejoin="round" stroke-dasharray="4 2.9"/>
<path d="M445.2 242.1 L560 242.1 L582 243.7 L587.5 245.9 L590.8 249.2 L594.1 250.3 L598.5 252.5 L604 254.1 L608.4 254.7 L614.9 255.8 L619.3 258 L623.7 260.7 L628.1 261.8 L632.5 265.5 L637.3 270.8 L642.6 272.6 L651.4 281.4 L658.4 290.2 L665.4 299 L672.5 309.5 L679.5 320.1 L684.8 328.8 L688.6 335 L692.9 342.1 L698.6 348.6 L701.4 356.4 L704.3 365 L708.6 370.7 L712.9 377.9 L717.1 383.6 L720 392.1 L720.6 395" fill="none" stroke="rgb(155,30,250)" stroke-width="1.5" stroke-linejoin="round"/>
<path d="M445.2 242.1 L448.5 241.8 L450.1 244 L451.8 249 L453.4 252.3 L458.4 253.4 L461.7 256.7 L463.9 259.4 L468.3 261.6 L472.7 265.5 L477.1 269.3 L480.4 271 L483.7 274.8 L487 279.8 L491.4 283.1 L493.8 283.3 L496.6 287.7 L501 291 L507.6 293 L514.2 294.3 L520.8 297 L527.4 299.8 L530.7 303.1 L537.3 305.5 L543.8 306.6 L550.4 308 L555.9 309.7 L562.5 311.9 L569.4 315.4 L576 319.1 L582 322 L588.1 326.4 L593.6 329.7 L599.1 331.9 L605.7 334.1 L611.2 336.3 L617.7 339.1 L624.3 340.7 L630.9 342.4 L637.5 343.5 L642.1 346.4 L648.6 350.7 L655.7 356.4 L662.9 361.4 L670 365.7 L677.1 369.3 L684.3 372.1 L690 374.3 L695.7 377.1 L701.4 380 L707.1 383.6 L712.9 387.9 L717.1 392.1 L720.6 397" fill="none" stroke="rgb(195,220,0)" stroke-width="1.5" stroke-linejoin="round" stroke-dasharray="4 2.9"/>
<path d="M445 242.1V407.1" fill="none" stroke="#333" stroke-width="1.9"/>
<path d="M444.3 407.25H720.6" fill="none" stroke="#1e1e1e" stroke-width="1.4"/>
<path d="M445.2 407.1v-2.6 M472.74 407.1v-2.6 M500.28 407.1v-2.6 M527.82 407.1v-2.6 M555.36 407.1v-2.6 M582.9 407.1v-2.6 M610.44 407.1v-2.6 M637.98 407.1v-2.6 M665.52 407.1v-2.6 M693.06 407.1v-2.6 M720.6 407.1v-2.6 M445.2 407.1h2.6 M445.2 390.6h2.6 M445.2 374.1h2.6 M445.2 357.6h2.6 M445.2 341.1h2.6 M445.2 324.6h2.6 M445.2 308.1h2.6 M445.2 291.6h2.6 M445.2 275.1h2.6 M445.2 258.6h2.6 M445.2 242.1h2.6" fill="none" stroke="#1e1e1e" stroke-width="1.1"/>
<g font-family='"Liberation Sans", Arial, Helvetica, sans-serif' font-size="8.3" fill="#111" stroke="#111" stroke-width="0.4">
<text x="445.2" y="416.6" text-anchor="middle">0</text>
<text x="472.74" y="416.6" text-anchor="middle">0.1</text>
<text x="500.28" y="416.6" text-anchor="middle">0.2</text>
<text x="527.82" y="416.6" text-anchor="middle">0.3</text>
<text x="555.36" y="416.6" text-anchor="middle">0.4</text>
<text x="582.9" y="416.6" text-anchor="middle">0.5</text>
<text x="610.44" y="416.6" text-anchor="middle">0.6</text>
<text x="637.98" y="416.6" text-anchor="middle">0.7</text>
<text x="665.52" y="416.6" text-anchor="middle">0.8</text>
<text x="693.06" y="416.6" text-anchor="middle">0.9</text>
<text x="720.6" y="416.6" text-anchor="middle">1</text>
<text x="442" y="410" text-anchor="end">0</text>
<text x="442" y="393.5" text-anchor="end">0.1</text>
<text x="442" y="377" text-anchor="end">0.2</text>
<text x="442" y="360.5" text-anchor="end">0.3</text>
<text x="442" y="344" text-anchor="end">0.4</text>
<text x="442" y="327.5" text-anchor="end">0.5</text>
<text x="442" y="311" text-anchor="end">0.6</text>
<text x="442" y="294.5" text-anchor="end">0.7</text>
<text x="442" y="278" text-anchor="end">0.8</text>
<text x="442" y="261.5" text-anchor="end">0.9</text>
<text x="442" y="245" text-anchor="end">1</text>
</g>
<text x="582.9" y="427.9" text-anchor="middle" font-family='"Liberation Sans", Arial, Helvetica, sans-serif' font-size="8.9" fill="#111" stroke="#111" stroke-width="0.4">Recall</text>
<text transform="translate(424.8 323.9) rotate(-90)" text-anchor="middle" font-family='"Liberation Sans", Arial, Helvetica, sans-serif' font-size="9.2" fill="#111" stroke="#111" stroke-width="0.4">Precision</text>
<path d="M729.5 247.56H747.5" stroke="rgb(255,20,20)" stroke-width="1.5"/>
<text x="749.5" y="250.46" font-family='"Liberation Sans", Arial, Helvetica, sans-serif' font-size="8.0" fill="#111" stroke="#111" stroke-width="0.4">NUS_SCM (94.5)</text>
<path d="M729.5 257.12H747.5" stroke="rgb(25,45,255)" stroke-width="1.5"/>
<text x="749.5" y="260.02" font-family='"Liberation Sans", Arial, Helvetica, sans-serif' font-size="8.0" fill="#111" stroke="#111" stroke-width="0.4">CVC (86.7)</text>
<path d="M729.5 266.68H747.5" stroke="rgb(30,160,30)" stroke-width="1.5" stroke-dasharray="4 2.9"/>
<text x="749.5" y="269.58" font-family='"Liberation Sans", Arial, Helvetica, sans-serif' font-size="8.0" fill="#111" stroke="#111" stroke-width="0.4">CVC_SP (86.7)</text>
<path d="M729.5 276.24H747.5" stroke="rgb(70,235,170)" stroke-width="1.5" stroke-dasharray="4 2.9"/>
<text x="749.5" y="279.14" font-family='"Liberation Sans", Arial, Helvetica, sans-serif' font-size="8.0" fill="#111" stroke="#111" stroke-width="0.4">ITI_FUSED (85.9)</text>
<path d="M729.5 285.8H747.5" stroke="rgb(155,30,250)" stroke-width="1.5"/>
<text x="749.5" y="288.7" font-family='"Liberation Sans", Arial, Helvetica, sans-serif' font-size="8.0" fill="#111" stroke="#111" stroke-width="0.4">ITI (83.4)</text>
<path d="M729.5 295.36H747.5" stroke="rgb(195,220,0)" stroke-width="1.5" stroke-dasharray="4 2.9"/>
<text x="749.5" y="298.26" font-family='"Liberation Sans", Arial, Helvetica, sans-serif' font-size="8.0" fill="#111" stroke="#111" stroke-width="0.4">IMPERIAL (51.1)</text>
<path d="M729.5 304.92H747.5" stroke="rgb(55,55,55)" stroke-width="1.5"/>
<text x="749.5" y="307.82" font-family='"Liberation Sans", Arial, Helvetica, sans-serif' font-size="8.0" fill="#111" stroke="#111" stroke-width="0.4">UP (0)</text>
<text x="556.6" y="448.7" font-family='"Liberation Serif", "Times New Roman", serif' font-size="14.2" fill="#111" stroke="#111" stroke-width="0.2" textLength="56.3" lengthAdjust="spacingAndGlyphs"><tspan font-weight="bold">(d)</tspan> train</text>
</svg></body></html>
